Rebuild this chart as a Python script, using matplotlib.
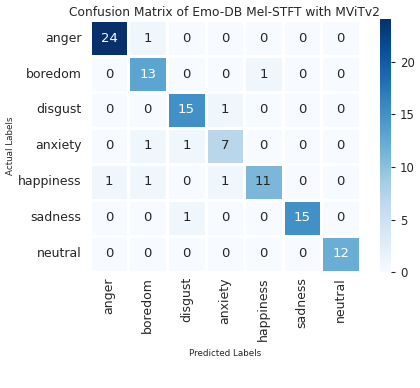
import numpy as np
import matplotlib.pyplot as plt
import seaborn as sns

# Метки классов
labels = ['anger', 'boredom', 'disgust', 'anxiety', 'happiness', 'sadness', 'neutral']

# Матрица ошибок (строки - истинные, столбцы - предсказанные)
row_anger = [24, 1, 0, 0, 0, 0, 0]
row_boredom = [0, 13, 0, 0, 1, 0, 0]
row_disgust = [0, 0, 15, 1, 0, 0, 0]
row_anxiety = [0, 1, 1, 7, 0, 0, 0]
row_happiness = [1, 1, 0, 1, 11, 0, 0]
row_sadness = [0, 0, 1, 0, 0, 15, 0]
row_neutral = [0, 0, 0, 0, 0, 0, 12]

cm = np.array([row_anger, row_boredom, row_disgust, row_anxiety,
               row_happiness, row_sadness, row_neutral])

sns.set_style('white')
plt.rcParams['font.family'] = ['DejaVu Sans']

fig = plt.figure(figsize=(4.2, 3.88), dpi=100)
ax = fig.add_axes([0.214, 0.300, 0.643, 0.648])
cax = fig.add_axes([0.905, 0.298, 0.026, 0.652])

sns.heatmap(cm, annot=True, fmt='d', cmap='Blues', linewidths=0.9, linecolor='white',
            xticklabels=labels, yticklabels=labels, ax=ax, cbar_ax=cax,
            annot_kws={'fontsize': 9.5})

ax.set_title('Confusion Matrix of Emo-DB Mel-STFT with MViTv2', fontsize=8.8, pad=3)
ax.set_xlabel('Predicted Labels', fontsize=6.3, labelpad=6)
ax.set_ylabel('Actual Labels', fontsize=6.3, labelpad=2)
ax.tick_params(axis='x', labelsize=9, rotation=90, length=0, pad=4)
ax.tick_params(axis='y', labelsize=9, rotation=0, length=0, pad=6)

cax.tick_params(labelsize=8.5, length=3, width=0.8, colors='#262626')
cax.set_yticks([0, 5, 10, 15, 20])
for s in cax.spines.values():
    s.set_visible(False)

fig.savefig('out.png', dpi=100)
